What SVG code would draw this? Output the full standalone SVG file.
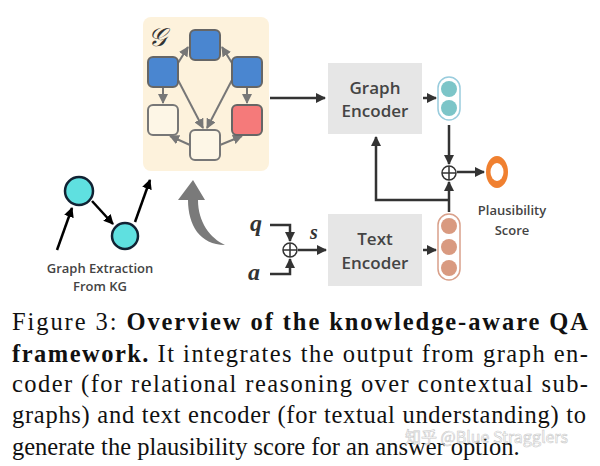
<svg xmlns="http://www.w3.org/2000/svg" width="600" height="466" viewBox="0 0 600 466">
<defs>
<marker id="ah" viewBox="0 0 10 10" refX="9" refY="5" markerWidth="4" markerHeight="4" orient="auto"><path d="M0,0L10,5L0,10z" fill="#333"/></marker>
<marker id="ahb" viewBox="0 0 10 10" refX="9" refY="5" markerWidth="4" markerHeight="4" orient="auto"><path d="M0,0L10,5L0,10z" fill="#000"/></marker>
<marker id="ahg" viewBox="0 0 10 10" refX="9" refY="5" markerWidth="5" markerHeight="5" orient="auto"><path d="M0,0L10,5L0,10z" fill="#777"/></marker>
</defs>
<style>
.lbl{font-family:"Open Sans","Noto Sans",sans-serif;fill:#444;text-anchor:middle}
.enc{fill:#e6e6e6}
.cap{font-family:"Liberation Serif",serif;font-size:24.5px;fill:#111}
.ln{stroke:#333;stroke-width:2.5;fill:none;marker-end:url(#ah)}
.gl{stroke:#777;stroke-width:2;fill:none;marker-end:url(#ahg)}
.nb{fill:#4a86d0;stroke:#666;stroke-width:2}
.nw{fill:#fdf6e6;stroke:#777;stroke-width:2}
.op{fill:#fff;stroke:#333;stroke-width:1.5}
</style>
<rect width="600" height="466" fill="#fff"/>
<g id="graph">
<rect x="143" y="17" width="126" height="154" rx="8" fill="#fdf2dc"/>
<text x="148" y="46" font-family="DejaVu Serif,serif" font-style="italic" font-size="26" fill="#333">𝒢</text>
<g id="edges">
<line x1="178" y1="63" x2="188" y2="47" class="gl"/>
<line x1="232" y1="63" x2="222" y2="47" class="gl"/>
<line x1="163" y1="88" x2="163" y2="103" class="gl"/>
<line x1="247" y1="88" x2="247" y2="103" class="gl"/>
<line x1="178" y1="80" x2="203" y2="128" class="gl"/>
<line x1="232" y1="80" x2="207" y2="128" class="gl"/>
<line x1="190" y1="145" x2="170" y2="136" class="gl"/>
<line x1="220" y1="145" x2="242" y2="136" class="gl"/>
</g>
<rect x="190" y="30" width="30" height="30" rx="5" class="nb"/>
<rect x="148" y="57" width="30" height="30" rx="5" class="nb"/>
<rect x="232" y="57" width="30" height="30" rx="5" class="nb"/>
<rect x="148" y="105" width="30" height="30" rx="5" class="nw"/>
<rect x="190" y="130" width="30" height="30" rx="5" class="nw"/>
<rect x="232" y="105" width="30" height="30" rx="5" fill="#f57a7a" stroke="#666" stroke-width="2"/>
</g>
<g id="kg">
<circle cx="79" cy="191" r="14" fill="#5fe0e0" stroke="#123" stroke-width="2.5"/>
<circle cx="125" cy="236" r="13" fill="#5fe0e0" stroke="#123" stroke-width="2.5"/>
<text x="100" y="273" class="lbl" font-size="13" font-weight="600">Graph Extraction</text>
<text x="100" y="291" class="lbl" font-size="13" font-weight="600">From KG</text>
</g>
<g id="graphenc"><rect x="328" y="63" width="94" height="71" class="enc"/>
<text x="375" y="94" class="lbl" font-size="17" font-weight="600">Graph</text>
<text x="375" y="117" class="lbl" font-size="17" font-weight="600">Encoder</text></g>
<g id="textenc"><rect x="328" y="214" width="94" height="72" class="enc"/>
<text x="375" y="245" class="lbl" font-size="17" font-weight="600">Text</text>
<text x="375" y="269" class="lbl" font-size="17" font-weight="600">Encoder</text></g>
<g id="gvec"><rect x="438" y="77" width="22" height="43" rx="11" fill="#fff" stroke="#9cd" stroke-width="1.5"/>
<circle cx="449" cy="89" r="8" fill="#7cc5c8"/><circle cx="449" cy="108" r="8" fill="#7cc5c8"/></g>
<g id="tvec"><rect x="438" y="214" width="22" height="66" rx="11" fill="#fff" stroke="#d9a08a" stroke-width="1.5"/>
<circle cx="449" cy="226" r="8" fill="#d99a80"/><circle cx="449" cy="247" r="8" fill="#d99a80"/><circle cx="449" cy="268" r="8" fill="#d99a80"/></g>
<g id="score"><ellipse cx="497" cy="172" rx="11" ry="16" fill="#f08030"/><ellipse cx="497" cy="172" rx="6.5" ry="9" fill="#fff"/>
<text x="512" y="215" class="lbl" font-size="13" font-weight="600">Plausibility</text>
<text x="512" y="235" class="lbl" font-size="13" font-weight="600">Score</text></g>
<g id="ops">
<circle cx="449" cy="173" r="7" class="op"/><path d="M442,173h14M449,166v14" stroke="#333" stroke-width="1.5"/>
<circle cx="290" cy="250" r="7" class="op"/><path d="M283,250h14M290,243v14" stroke="#333" stroke-width="1.5"/>
<text x="250" y="231" font-family="Liberation Serif,serif" font-style="italic" font-weight="bold" font-size="24" fill="#333">q</text>
<text x="248" y="280" font-family="Liberation Serif,serif" font-style="italic" font-weight="bold" font-size="24" fill="#333">a</text>
<text x="310" y="239" font-family="Liberation Serif,serif" font-style="italic" font-weight="bold" font-size="20" fill="#333">s</text>
</g>
<g id="connectors">
<line x1="270" y1="98" x2="325" y2="98" class="ln"/>
<line x1="423" y1="98" x2="436" y2="98" class="ln"/>
<line x1="449" y1="125" x2="449" y2="164" class="ln"/>
<line x1="457" y1="172" x2="484" y2="172" class="ln"/>
<line x1="449" y1="212" x2="449" y2="182" class="ln"/>
<polyline points="449,200 376,200 376,137" class="ln"/>
<polyline points="270,225 290,225 290,241" class="ln"/>
<polyline points="270,274 290,274 290,259" class="ln"/>
<line x1="298" y1="250" x2="326" y2="250" class="ln"/>
<line x1="423" y1="250" x2="436" y2="250" class="ln"/>
<line x1="57" y1="250" x2="72" y2="208" stroke="#000" stroke-width="2.5" marker-end="url(#ahb)"/>
<line x1="92" y1="201" x2="113" y2="224" stroke="#000" stroke-width="2.5" marker-end="url(#ahb)"/>
<line x1="135" y1="222" x2="150" y2="180" stroke="#000" stroke-width="2.5" marker-end="url(#ahb)"/>
<path d="M225,245 C200,245 188,225 188,200 L178,200 L193,180 L205,200 L198,200 C198,222 210,238 225,245 Z" fill="#7a7a7a"/>
</g>
<g id="caption" class="cap">
<text x="12" y="330" textLength="576" lengthAdjust="spacing">Figure 3:  <tspan font-weight="bold">Overview of the knowledge-aware QA</tspan></text>
<text x="12" y="362" textLength="576" lengthAdjust="spacing"><tspan font-weight="bold">framework.</tspan>  It integrates the output from graph en-</text>
<text x="12" y="392" textLength="576" lengthAdjust="spacing">coder (for relational reasoning over contextual sub-</text>
<text x="12" y="423" textLength="574" lengthAdjust="spacing">graphs) and text encoder (for textual understanding) to</text>
<text x="12" y="455">generate the plausibility score for an answer option.</text>
</g>
<text x="405" y="443" font-family="Noto Sans CJK SC,sans-serif" font-size="16" fill="#fff" stroke="#bbb" stroke-width="0.6" opacity="0.8">知乎 @Blue Stragglers</text>
</svg>
